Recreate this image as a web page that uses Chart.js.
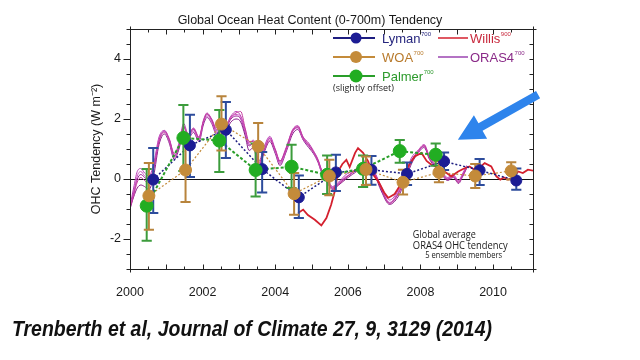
<!DOCTYPE html>
<html><head><meta charset="utf-8">
<script src="https://cdn.jsdelivr.net/npm/chart.js@4.4.1/dist/chart.umd.min.js"></script>
<style>
html,body{margin:0;padding:0;background:#fff;width:640px;height:360px;overflow:hidden}
#wrap{position:relative;width:640px;height:360px;background:#fff}
canvas{position:absolute;left:0;top:0}
#cap{position:absolute;left:12px;top:318px;font:italic bold 22px "Liberation Sans",Arial,sans-serif;line-height:22px;color:#111;white-space:nowrap;transform-origin:0 0}
</style></head><body>
<div id="wrap"><canvas id="c" width="640" height="360"></canvas><div id="cap">Trenberth et al, Journal of Climate 27, 9, 3129 (2014)</div></div>
<script>
// ---------- data ----------
const lymanYears = [2000.64,2001.65,2002.64,2003.64,2004.65,2005.67,2006.65,2007.63,2008.65,2009.63,2010.64];
const lymanVals  = [-0.02,1.12,1.64,0.33,-0.61,0.22,0.31,0.17,0.59,0.29,-0.05];
const lymanLow   = [-1.13,0.07,0.70,-0.45,-1.30,-0.40,-0.19,-0.20,0.30,-0.20,-0.36];
const lymanHigh  = [1.03,2.14,2.57,0.90,0.12,0.81,0.77,0.55,0.88,0.67,0.35];

const woaYears = [2000.52,2001.53,2002.52,2003.53,2004.52,2005.49,2006.50,2007.52,2008.51,2009.51,2010.50];
const woaVals  = [-0.56,0.30,1.83,1.09,-0.49,0.10,0.32,-0.11,0.22,0.10,0.27];
const woaLow   = [-1.69,-0.77,0.95,0.30,-1.19,-0.54,-0.20,-0.52,-0.11,-0.30,-0.02];
const woaHigh  = [0.53,1.40,2.76,1.87,0.20,0.64,0.75,0.31,0.59,0.50,0.56];

const palmerYears = [2000.46,2001.47,2002.46,2003.46,2004.45,2005.43,2006.42,2007.43,2008.42];
const palmerVals  = [-0.89,1.37,1.28,0.30,0.41,0.14,0.34,0.93,0.81];
const palmerLow   = [-2.06,0.27,0.23,-0.58,-0.30,-0.50,-0.27,0.54,0.44];
const palmerHigh  = [0.33,2.47,2.30,1.18,1.14,0.78,0.78,1.30,1.18];

const willisYears = [2004.63,2004.77,2004.90,2005.09,2005.27,2005.41,2005.54,2005.64,2005.73,2005.85,2005.96,2006.05,2006.20,2006.28,2006.42,2006.56,2006.70,2006.85,2007.00,2007.11,2007.29,2007.48,2007.66,2007.84,2008.03,2008.17,2008.30,2008.45,2008.58,2008.72,2008.85,2009.04,2009.20,2009.35,2009.50,2009.65,2009.77,2009.95,2010.09,2010.20,2010.30,2010.41,2010.55,2010.69,2010.82,2010.96,2011.10];
const willisVals  = [-1.13,-1.02,-1.20,-1.36,-1.55,-1.30,-0.86,-0.41,0.25,0.50,0.64,0.40,0.87,1.03,0.87,0.59,0.14,-0.10,-0.45,-0.63,-0.50,-0.13,0.42,0.75,0.87,0.60,0.48,0.40,0.31,0.20,0.09,0.25,0.35,0.42,0.30,0.40,0.53,0.42,0.09,-0.02,0.05,-0.02,0.03,0.25,0.20,0.31,0.28];

const orasYears = [2000.00,2000.10,2000.20,2000.30,2000.40,2000.52,2000.65,2000.80,2000.95,
  2001.08,2001.22,2001.35,2001.48,2001.60,2001.75,2001.90,
  2002.02,2002.12,2002.25,2002.38,2002.52,2002.65,2002.78,2002.92,
  2003.05,2003.17,2003.28,2003.40,2003.55,2003.70,2003.85,
  2004.00,2004.13,2004.30,2004.48,2004.62,2004.77,2004.92,
  2005.05,2005.18,2005.28,2005.42,2005.58,2005.75,2005.95,
  2006.12,2006.30,2006.45,2006.58,2006.75,2006.92,
  2007.15,2007.38,2007.57,2007.75,2007.93,
  2008.10,2008.25,2008.40,2008.58,2008.75,2008.90,
  2009.05,2009.15,2009.27];
const oras1 = [-0.95,-0.45,0.00,0.15,0.05,-0.05,0.35,1.30,1.60,
  1.30,0.75,1.10,1.75,1.45,1.65,1.35,
  1.90,2.15,1.95,1.60,1.80,1.75,2.00,2.10,
  2.00,1.55,1.10,1.20,0.45,1.00,1.35,
  0.95,0.55,1.00,1.60,1.72,1.35,1.12,
  0.90,0.60,0.25,-0.02,-0.30,-0.15,0.05,
  0.20,0.35,0.55,0.45,0.15,-0.35,
  -0.80,-0.50,0.00,0.60,0.90,
  1.10,0.70,0.45,0.20,0.00,0.10,
  -0.10,0.10,0.40];
const oras2 = [-0.90,-0.30,0.25,0.35,0.20,0.10,0.50,1.40,1.62,
  1.35,0.85,1.20,1.85,1.50,1.70,1.40,
  1.95,2.20,2.00,1.70,1.85,1.85,2.10,2.25,
  2.10,1.65,1.20,1.30,0.60,1.10,1.42,
  1.00,0.60,1.05,1.65,1.78,1.40,1.20,
  0.95,0.65,0.30,0.05,-0.25,-0.10,0.15,
  0.25,0.40,0.60,0.50,0.20,-0.25,
  -0.70,-0.40,0.10,0.70,0.95,
  1.15,0.75,0.50,0.25,0.05,0.15,
  -0.05,0.15,0.45];
const oras3 = [-1.00,-0.60,-0.30,-0.20,-0.25,-0.35,0.10,1.15,1.50,
  1.20,0.65,1.00,1.60,1.35,1.55,1.25,
  1.80,2.05,1.85,1.50,1.70,1.65,1.90,2.00,
  1.90,1.45,0.95,1.05,0.35,0.90,1.25,
  0.85,0.45,0.90,1.50,1.65,1.30,1.05,
  0.85,0.55,0.20,-0.10,-0.35,-0.20,0.00,
  0.15,0.30,0.50,0.40,0.10,-0.40,
  -0.85,-0.60,-0.10,0.50,0.85,
  1.05,0.65,0.40,0.15,-0.05,0.05,
  -0.15,0.05,0.35];
const oras4 = [-0.92,-0.50,0.10,0.25,0.10,0.00,0.40,1.35,1.58,
  1.28,0.70,1.15,1.78,1.42,1.60,1.30,
  1.88,2.10,1.90,1.55,1.78,1.80,2.05,2.15,
  2.05,1.60,1.15,1.15,0.50,1.05,1.38,
  0.92,0.50,0.95,1.58,1.70,1.32,1.10,
  0.90,0.58,0.22,0.00,-0.28,-0.12,0.08,
  0.20,0.38,0.58,0.45,0.12,-0.30,
  -0.78,-0.45,0.05,0.62,0.88,
  1.10,0.72,0.42,0.22,0.02,0.12,
  -0.08,0.12,0.42];
const oras5 = [-0.98,-0.55,-0.10,0.05,-0.05,-0.15,0.30,1.25,1.55,
  1.32,0.80,1.08,1.72,1.50,1.68,1.38,
  1.92,2.18,1.98,1.65,1.75,1.78,2.05,2.20,
  2.25,1.70,1.25,1.25,0.55,0.95,1.30,
  0.98,0.60,1.00,1.62,1.75,1.38,1.15,
  0.92,0.62,0.28,0.02,-0.32,-0.18,0.05,
  0.22,0.42,0.52,0.42,0.18,-0.32,
  -0.82,-0.52,0.02,0.58,0.92,
  1.12,0.68,0.48,0.18,-0.02,0.08,
  -0.12,0.08,0.38];

const xTickLabels = ['2000','2002','2004','2006','2008','2010'];
const yTickLabels = ['-2','0','2','4'];
const arrowFrom = [2011.24, 2.81];
const arrowTo   = [2009.03, 1.31];

// ---------- helpers ----------
const FONT = '"Liberation Sans", Arial, sans-serif';
const pts = (xs, ys) => xs.map((v, i) => ({x: v, y: ys[i]}));
function errBars(xs, lo, hi, cap) {
  const d = [];
  xs.forEach((v, i) => {
    d.push({x: v, y: lo[i]}, {x: v, y: hi[i]}, {x: v, y: null},
           {x: v - cap, y: hi[i]}, {x: v + cap, y: hi[i]}, {x: v, y: null},
           {x: v - cap, y: lo[i]}, {x: v + cap, y: lo[i]}, {x: v, y: null});
  });
  return d;
}
const CAP = 0.14;
const C = {
  lyman: '#1c1c94', lymanErr: '#2d4c9c', lymanLine: '#1d1d80',
  woa: '#c48b3a', woaErr: '#b8843c',
  palmer: '#22ad22', palmerErr: '#3c9c3c',
  willis: '#d4202e'
};
const orasColors = ['#9a2598', '#b83cb4', '#8a1e8c', '#cc55c4', '#c43a9e'];

const datasets = [];
[oras1, oras2, oras3, oras4, oras5].forEach((m, k) => datasets.push({
  data: pts(orasYears, m), borderColor: orasColors[k], borderWidth: 1,
  pointRadius: 0, cubicInterpolationMode: 'monotone', order: 60 - k
}));
datasets.push({data: pts(willisYears, willisVals), borderColor: C.willis, borderWidth: 1.8, pointRadius: 0, tension: 0, order: 50});
datasets.push({data: pts(woaYears, woaVals), borderColor: C.woa, borderWidth: 1.2, borderDash: [2, 2], pointRadius: 0, order: 42});
datasets.push({data: pts(lymanYears, lymanVals), borderColor: C.lymanLine, borderWidth: 1.5, borderDash: [2, 2], pointRadius: 0, order: 41});
datasets.push({data: pts(palmerYears, palmerVals), borderColor: '#2a9e2a', borderWidth: 2, borderDash: [3, 2], pointRadius: 0, order: 40});
datasets.push({data: errBars(lymanYears, lymanLow, lymanHigh, CAP), borderColor: C.lymanErr, borderWidth: 2, pointRadius: 0, spanGaps: false, order: 32});
datasets.push({data: errBars(palmerYears, palmerLow, palmerHigh, CAP), borderColor: C.palmerErr, borderWidth: 2, pointRadius: 0, spanGaps: false, order: 31});
datasets.push({data: errBars(woaYears, woaLow, woaHigh, CAP), borderColor: C.woaErr, borderWidth: 2, pointRadius: 0, spanGaps: false, order: 30});
datasets.push({data: pts(lymanYears, lymanVals), showLine: false, pointRadius: 5.5, pointBackgroundColor: C.lyman, pointBorderColor: C.lyman, pointBorderWidth: 1, order: 12});
datasets.push({data: pts(palmerYears, palmerVals), showLine: false, pointRadius: 6.5, pointBackgroundColor: C.palmer, pointBorderColor: C.palmer, pointBorderWidth: 1, order: 11});
datasets.push({data: pts(woaYears, woaVals), showLine: false, pointRadius: 6, pointBackgroundColor: C.woa, pointBorderColor: C.woa, pointBorderWidth: 1, order: 10});

// ---------- decorations ----------
function supText(ctx, base, sup, x, y, font, supFont, color) {
  ctx.fillStyle = color;
  ctx.font = font; ctx.textAlign = 'left'; ctx.textBaseline = 'alphabetic';
  ctx.fillText(base, x, y);
  const w = ctx.measureText(base).width;
  ctx.font = supFont;
  ctx.fillText(sup, x + w + 0.5, y - 7);
}
const deco = {
  id: 'deco',
  beforeDatasetsDraw(chart) {
    const {ctx, chartArea: a, scales: {y}} = chart;
    ctx.save();
    ctx.strokeStyle = '#111'; ctx.lineWidth = 1;
    const y0 = Math.round(y.getPixelForValue(0)) + 0.5;
    ctx.beginPath(); ctx.moveTo(a.left, y0); ctx.lineTo(a.right, y0); ctx.stroke();
    ctx.restore();
  },
  afterDraw(chart) {
    const {ctx, chartArea: a, scales: {x, y}} = chart;
    ctx.save();
    // frame + ticks
    ctx.strokeStyle = '#222'; ctx.lineWidth = 1;
    const L = Math.round(a.left) + 0.5, R = Math.round(a.right) + 0.5, T = Math.round(a.top) + 0.5, B = Math.round(a.bottom) + 0.5;
    ctx.beginPath();
    ctx.moveTo(L, T - 3); ctx.lineTo(L, B + 3);
    ctx.moveTo(L - 3, B); ctx.lineTo(R + 3, B);
    ctx.moveTo(L - 3, T); ctx.lineTo(R + 3, T);
    ctx.moveTo(R, T - 3); ctx.lineTo(R, B + 3);
    x.ticks.forEach(t => {
      const v = t.value; if (Math.abs(v * 2 - Math.round(v * 2)) > 1e-6) return;
      const px = Math.round(x.getPixelForValue(v)) + 0.5;
      const len = Number.isInteger(v) ? 5 : 3;
      ctx.moveTo(px, B); ctx.lineTo(px, B - len);
      ctx.moveTo(px, T); ctx.lineTo(px, T + len);
    });
    y.ticks.forEach(t => {
      const v = t.value;
      const py = Math.round(y.getPixelForValue(v)) + 0.5;
      const major = yTickLabels.includes(String(v));
      ctx.moveTo(L, py); ctx.lineTo(L - (major ? 7 : 4), py);
      ctx.moveTo(R, py); ctx.lineTo(R - 4, py);
    });
    ctx.stroke();

    // title
    ctx.fillStyle = '#1a1a1a'; ctx.font = '12.5px ' + FONT; ctx.textAlign = 'center'; ctx.textBaseline = 'alphabetic';
    ctx.fillText('Global Ocean Heat Content (0-700m) Tendency', 310, 24);

    // legend
    const F = '13px ' + FONT, SF = '6px ' + FONT;
    const legendRows = [
      {y: 38, color: C.lymanLine, marker: C.lyman, r: 5.5, label: 'Lyman', sup: '700', tc: '#26267e'},
      {y: 57, color: C.woa, marker: C.woa, r: 6, label: 'WOA', sup: '700', tc: '#b87a2c'},
      {y: 76, color: '#2a9e2a', marker: C.palmer, r: 6.5, label: 'Palmer', sup: '700', tc: '#2c9a2c'}
    ];
    legendRows.forEach(r => {
      ctx.strokeStyle = r.color; ctx.lineWidth = 2;
      ctx.beginPath(); ctx.moveTo(333, r.y); ctx.lineTo(375, r.y); ctx.stroke();
      ctx.fillStyle = r.marker; ctx.beginPath(); ctx.arc(356, r.y, r.r, 0, Math.PI * 2); ctx.fill();
      supText(ctx, r.label, r.sup, 382, r.y + 5, F, SF, r.tc);
    });
    [{y: 38, color: C.willis, label: 'Willis', sup: '900', tc: '#c8283c'},
     {y: 57, color: '#9b45b0', label: 'ORAS4', sup: '700', tc: '#8a2a88'}].forEach(r => {
      ctx.strokeStyle = r.color; ctx.lineWidth = 1.5;
      ctx.beginPath(); ctx.moveTo(438, r.y); ctx.lineTo(468, r.y); ctx.stroke();
      supText(ctx, r.label, r.sup, 470, r.y + 5, F, SF, r.tc);
    });
    ctx.fillStyle = '#222'; ctx.font = '9px "Open Sans", sans-serif'; ctx.textAlign = 'left';
    ctx.fillText('(slightly offset)', 333, 91, 62);

    // annotation text
    ctx.fillStyle = '#1a1a1a';
    const ax = x.getPixelForValue(2007.79);
    ctx.font = '10.5px "Open Sans", sans-serif';
    ctx.fillText('Global average', ax, y.getPixelForValue(-1.96), 63);
    ctx.fillText('ORAS4 OHC tendency', ax, y.getPixelForValue(-2.33), 95);
    ctx.font = '8.5px "Open Sans", sans-serif';
    ctx.fillText('5 ensemble members', x.getPixelForValue(2008.13), y.getPixelForValue(-2.63), 77);

    // arrow
    const x1 = x.getPixelForValue(arrowFrom[0]), y1 = y.getPixelForValue(arrowFrom[1]);
    const x2 = x.getPixelForValue(arrowTo[0]), y2 = y.getPixelForValue(arrowTo[1]);
    const len = Math.hypot(x1 - x2, y1 - y2), ux = (x1 - x2) / len, uy = (y1 - y2) / len, nx = -uy, ny = ux;
    const hl = 26, hw = 13.5, sw = 4.2;
    const bx = x2 + ux * hl, by = y2 + uy * hl;
    ctx.fillStyle = '#2e84ec';
    ctx.beginPath();
    ctx.moveTo(x1 + nx * sw, y1 + ny * sw);
    ctx.lineTo(bx + nx * sw, by + ny * sw);
    ctx.lineTo(bx + nx * hw, by + ny * hw);
    ctx.lineTo(x2, y2);
    ctx.lineTo(bx - nx * hw, by - ny * hw);
    ctx.lineTo(bx - nx * sw, by - ny * sw);
    ctx.lineTo(x1 - nx * sw, y1 - ny * sw);
    ctx.closePath(); ctx.fill();
    ctx.restore();
  }
};

new Chart(document.getElementById('c'), {
  type: 'line',
  data: {datasets},
  options: {
    responsive: false, animation: false, events: [],
    layout: {padding: {left: 0, top: 29, right: 107, bottom: 51}},
    plugins: {legend: {display: false}, tooltip: {enabled: false}, title: {display: false}},
    scales: {
      x: {
        type: 'linear', min: 2000, max: 2011.1,
        grid: {display: false, drawTicks: false}, border: {display: false},
        ticks: {stepSize: 0.5, autoSkip: false, maxRotation: 0, padding: 16, color: '#1a1a1a',
          font: {family: FONT, size: 12.5},
          callback: v => xTickLabels.includes(String(v)) ? String(v) : ''},
        afterFit(s) { s.height = 40; }
      },
      y: {
        min: -3, max: 5,
        grid: {display: false, drawTicks: false}, border: {display: false},
        ticks: {stepSize: 0.5, autoSkip: false, padding: 9, color: '#1a1a1a',
          font: {family: FONT, size: 12.5},
          callback: v => yTickLabels.includes(String(v)) ? String(v) : ''},
        title: {display: true, text: 'OHC Tendency (W m⁻²)', color: '#1a1a1a',
          font: {family: FONT, size: 12.5}, padding: {top: 89.5, bottom: 0}},
        afterFit(s) { s.width = 130; }
      }
    }
  },
  plugins: [deco]
});

const cap = document.getElementById('cap');
const cw = cap.getBoundingClientRect().width;
cap.style.transform = 'scaleX(' + (480 / cw) + ')';
</script>
</body></html>
